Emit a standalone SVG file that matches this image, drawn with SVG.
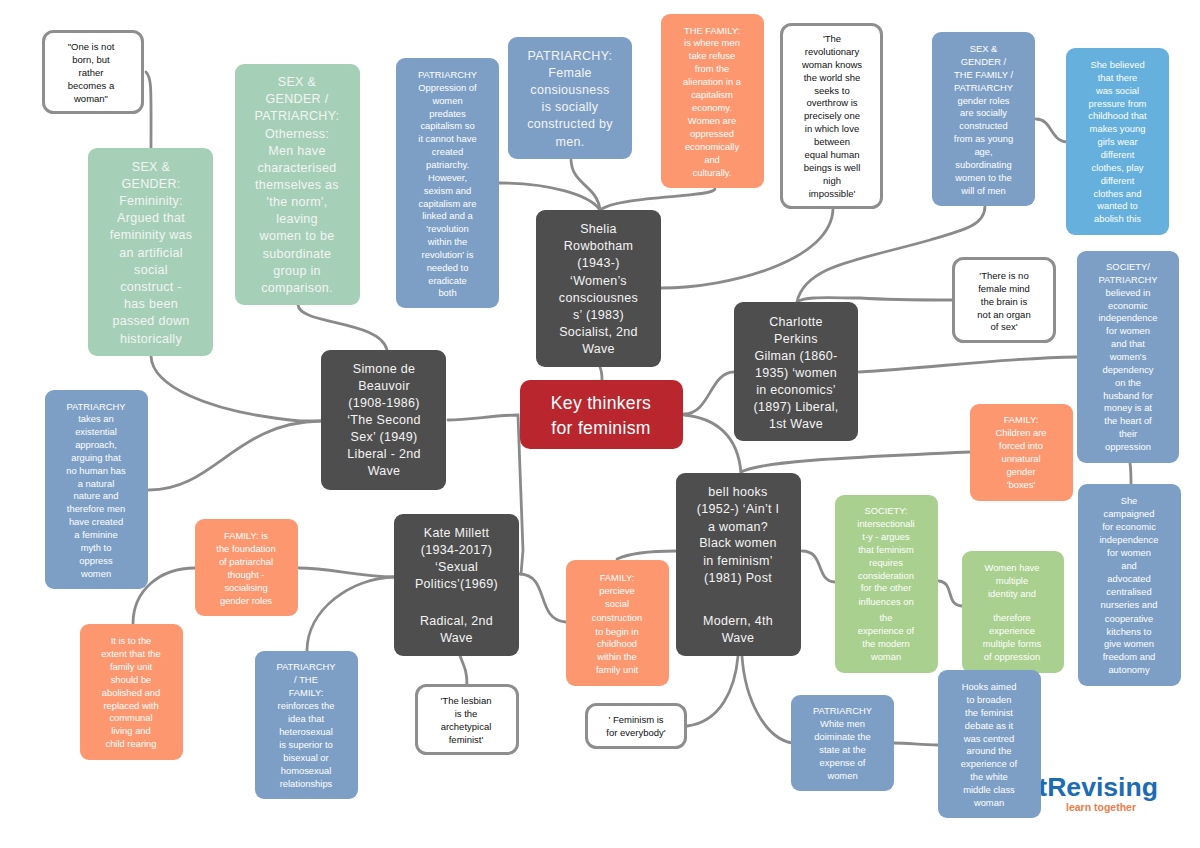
<svg xmlns="http://www.w3.org/2000/svg" width="1200" height="848" viewBox="0 0 1200 848">
<style>
text{font-family:"Liberation Sans",Arial,sans-serif;text-anchor:middle}
.b{fill:#7d9fc6}.g{fill:#a5d0b7}.o{fill:#fd9770}.l{fill:#66b0dd}.v{fill:#a9d08e}.d{fill:#4e4e4e}.r{fill:#b9262d}
.q{fill:#fff;stroke:#8e8e8e;stroke-width:3}
.s{font-size:9.4px;fill:#fff}.k{font-size:9.5px;fill:#111}.m{font-size:12.5px;fill:#f4f4f4;letter-spacing:.3px}.x{font-size:17.6px;fill:#fff;letter-spacing:.3px}
#connectors path{fill:none;stroke:#8a8a8a;stroke-width:2.8;stroke-linecap:round}
</style>
<g id="logo"><text x="1158" y="796" font-size="26.600" font-weight="700" fill="#1b6cb5" style="text-anchor:end">tRevising</text><text x="1101" y="811" font-size="10.500" font-weight="700" fill="#f07c4a">learn together</text></g>
<g id="connectors">
<path d="M146 72C152 78 151 90 151 148"/>
<path d="M151 356C152 385 205 412 300 421L321 421"/>
<path d="M149 490C215 490 235 422 321 421"/>
<path d="M298 305C300 325 380 320 387 350"/>
<path d="M448 420C470 420 495 415 518 415L520 470L523 550L521 574"/>
<path d="M520 574C550 575 535 620 566 622"/>
<path d="M617 559C630 553 650 551 676 551"/>
<path d="M460 656C465 668 467 672 467 685"/>
<path d="M299 568C330 568 355 576 395 577"/>
<path d="M307 651C307 610 350 578 395 577"/>
<path d="M195 568C160 568 133 590 133 624"/>
<path d="M600 367C602 372 602 374 602 380"/>
<path d="M499 183C550 183 590 195 600 210"/>
<path d="M571 160C572 185 597 185 600 210"/>
<path d="M715 189C712 198 620 195 600 210"/>
<path d="M661 288C730 288 833 260 833 208"/>
<path d="M797 302C805 265 860 260 930 240C965 230 985 225 985 206"/>
<path d="M797 302C805 296 830 298 860 298C890 300 920 300 953 300"/>
<path d="M1036 119C1052 119 1050 141 1067 142"/>
<path d="M859 372C933 368 1000 358 1077 357"/>
<path d="M1130 463C1131 470 1131 475 1131 484"/>
<path d="M684 414C710 414 710 372 734 372"/>
<path d="M684 415C715 418 738 435 741 473"/>
<path d="M741 472C760 462 830 458 970 452"/>
<path d="M802 551C825 551 815 581 835 582"/>
<path d="M939 581C955 583 945 605 962 606"/>
<path d="M738 656C735 690 720 722 687 726"/>
<path d="M742 656C745 700 765 738 792 743"/>
<path d="M894 743C910 743 920 745 938 745"/>
</g>
<g id="n-quote-born"><rect class="q" x="43.500" y="31.500" width="99" height="81" rx="10"/><text class="k" text-anchor="middle"><tspan x="91" y="50">"One is not</tspan><tspan x="91" y="63">born, but</tspan><tspan x="91" y="76">rather</tspan><tspan x="91" y="89">becomes a</tspan><tspan x="91" y="102">woman"</tspan></text></g>
<g id="n-femininity"><rect class="g" x="88" y="148" width="125" height="208" rx="9"/><text class="m"><tspan x="151" y="170.500">SEX &amp;</tspan><tspan x="151" y="187.700">GENDER:</tspan><tspan x="151" y="204.900">Femininity:</tspan><tspan x="151" y="222.100">Argued that</tspan><tspan x="151" y="239.300">femininity was</tspan><tspan x="151" y="256.500">an artificial</tspan><tspan x="151" y="273.700">social</tspan><tspan x="151" y="290.900">construct -</tspan><tspan x="151" y="308.100">has been</tspan><tspan x="151" y="325.300">passed down</tspan><tspan x="151" y="342.500">historically</tspan></text></g>
<g id="n-otherness"><rect class="g" x="235" y="64" width="125" height="241" rx="9"/><text class="m"><tspan x="297" y="86">SEX &amp;</tspan><tspan x="297" y="103.200">GENDER /</tspan><tspan x="297" y="120.300">PATRIARCHY:</tspan><tspan x="297" y="137.500">Otherness:</tspan><tspan x="297" y="154.600">Men have</tspan><tspan x="297" y="171.800">characterised</tspan><tspan x="297" y="188.900">themselves as</tspan><tspan x="297" y="206">'the norm',</tspan><tspan x="297" y="223.200">leaving</tspan><tspan x="297" y="240.400">women to be</tspan><tspan x="297" y="257.500">subordinate</tspan><tspan x="297" y="274.700">group in</tspan><tspan x="297" y="291.800">comparison.</tspan></text></g>
<g id="n-oppression"><rect class="b" x="396" y="58" width="103" height="250" rx="9"/><text class="s"><tspan x="447.500" y="78">PATRIARCHY</tspan><tspan x="447.500" y="90.800">Oppression of</tspan><tspan x="447.500" y="103.700">women</tspan><tspan x="447.500" y="116.500">predates</tspan><tspan x="447.500" y="129.400">capitalism so</tspan><tspan x="447.500" y="142.200">it cannot have</tspan><tspan x="447.500" y="155.100">created</tspan><tspan x="447.500" y="168">patriarchy.</tspan><tspan x="447.500" y="180.800">However,</tspan><tspan x="447.500" y="193.700">sexism and</tspan><tspan x="447.500" y="206.500">capitalism are</tspan><tspan x="447.500" y="219.400">linked and a</tspan><tspan x="447.500" y="232.200">'revolution</tspan><tspan x="447.500" y="245">within the</tspan><tspan x="447.500" y="258">revolution' is</tspan><tspan x="447.500" y="270.800">needed to</tspan><tspan x="447.500" y="283.600">eradicate</tspan><tspan x="447.500" y="296">both</tspan></text></g>
<g id="n-consiousness"><rect class="b" x="508" y="37" width="124" height="122" rx="9"/><text class="m"><tspan x="570" y="59.500">PATRIARCHY:</tspan><tspan x="570" y="76.700">Female</tspan><tspan x="570" y="93.900">consiousness</tspan><tspan x="570" y="111.100">is socially</tspan><tspan x="570" y="128.300">constructed by</tspan><tspan x="570" y="145.500">men.</tspan></text></g>
<g id="n-family-refuge"><rect class="o" x="661" y="14" width="103" height="174" rx="9"/><text class="s"><tspan x="712" y="33.500">THE FAMILY:</tspan><tspan x="712" y="46.400">is where men</tspan><tspan x="712" y="59.300">take refuse</tspan><tspan x="712" y="72.200">from the</tspan><tspan x="712" y="85.100">alienation in a</tspan><tspan x="712" y="98">capitalism</tspan><tspan x="712" y="110.900">economy.</tspan><tspan x="712" y="123.800">Women are</tspan><tspan x="712" y="136.700">oppressed</tspan><tspan x="712" y="149.600">economically</tspan><tspan x="712" y="162.500">and</tspan><tspan x="712" y="175.500">culturally.</tspan></text></g>
<g id="n-quote-revolutionary"><rect class="q" x="781.500" y="24.500" width="100" height="183" rx="10"/><text class="k"><tspan x="832" y="42">'The</tspan><tspan x="832" y="54.900">revolutionary</tspan><tspan x="832" y="67.700">woman knows</tspan><tspan x="832" y="80.600">the world she</tspan><tspan x="832" y="93.500">seeks to</tspan><tspan x="832" y="106.400">overthrow is</tspan><tspan x="832" y="119.200">precisely one</tspan><tspan x="832" y="132.100">in which love</tspan><tspan x="832" y="145">between</tspan><tspan x="832" y="157.800">equal human</tspan><tspan x="832" y="170.700">beings is well</tspan><tspan x="832" y="183.600">nigh</tspan><tspan x="832" y="196.500">impossible'</tspan></text></g>
<g id="n-gender-roles"><rect class="b" x="932" y="32" width="103" height="174" rx="9"/><text class="s"><tspan x="983.500" y="52">SEX &amp;</tspan><tspan x="983.500" y="64.900">GENDER /</tspan><tspan x="983.500" y="77.700">THE FAMILY /</tspan><tspan x="983.500" y="90.600">PATRIARCHY</tspan><tspan x="983.500" y="103.500">gender roles</tspan><tspan x="983.500" y="116.400">are socially</tspan><tspan x="983.500" y="129.200">constructed</tspan><tspan x="983.500" y="142.100">from as young</tspan><tspan x="983.500" y="155">age,</tspan><tspan x="983.500" y="167.800">subordinating</tspan><tspan x="983.500" y="180.700">women to the</tspan><tspan x="983.500" y="193.500">will of men</tspan></text></g>
<g id="n-social-pressure"><rect class="l" x="1066" y="48" width="103" height="187" rx="9"/><text class="s"><tspan x="1117.500" y="68">She believed</tspan><tspan x="1117.500" y="80.900">that there</tspan><tspan x="1117.500" y="93.700">was social</tspan><tspan x="1117.500" y="106.600">pressure from</tspan><tspan x="1117.500" y="119.400">childhood that</tspan><tspan x="1117.500" y="132.300">makes young</tspan><tspan x="1117.500" y="145.100">girls wear</tspan><tspan x="1117.500" y="158">different</tspan><tspan x="1117.500" y="170.800">clothes, play</tspan><tspan x="1117.500" y="183.700">different</tspan><tspan x="1117.500" y="196.500">clothes and</tspan><tspan x="1117.500" y="209.400">wanted to</tspan><tspan x="1117.500" y="222.200">abolish this</tspan></text></g>
<g id="n-rowbotham"><rect class="d" x="536" y="210" width="125" height="157" rx="9"/><text class="m"><tspan x="598.500" y="233">Shelia</tspan><tspan x="598.500" y="250.200">Rowbotham</tspan><tspan x="598.500" y="267.300">(1943-)</tspan><tspan x="598.500" y="284.500">‘Women’s</tspan><tspan x="598.500" y="301.600">consciousnes</tspan><tspan x="598.500" y="318.800">s’ (1983)</tspan><tspan x="598.500" y="335.900">Socialist, 2nd</tspan><tspan x="598.500" y="353">Wave</tspan></text></g>
<g id="n-key"><rect class="r" x="520" y="380" width="163" height="69" rx="10"/><text class="x"><tspan x="601" y="409">Key thinkers</tspan><tspan x="601" y="433.500">for feminism</tspan></text></g>
<g id="n-beauvoir"><rect class="d" x="321" y="350" width="125" height="140" rx="9"/><text class="m"><tspan x="384" y="372.500">Simone de</tspan><tspan x="384" y="389.600">Beauvoir</tspan><tspan x="384" y="406.700">(1908-1986)</tspan><tspan x="384" y="423.800">‘The Second</tspan><tspan x="384" y="440.900">Sex’ (1949)</tspan><tspan x="384" y="458">Liberal - 2nd</tspan><tspan x="384" y="475">Wave</tspan></text></g>
<g id="n-gilman"><rect class="d" x="734" y="302" width="124" height="139" rx="9"/><text class="m"><tspan x="796" y="325.500">Charlotte</tspan><tspan x="796" y="342.600">Perkins</tspan><tspan x="796" y="359.700">Gilman (1860-</tspan><tspan x="796" y="376.800">1935) ‘women</tspan><tspan x="796" y="393.900">in economics’</tspan><tspan x="796" y="411">(1897) Liberal,</tspan><tspan x="796" y="428">1st Wave</tspan></text></g>
<g id="n-quote-brain"><rect class="q" x="953.500" y="258.500" width="101" height="83" rx="10"/><text class="k"><tspan x="1004" y="279">'There is no</tspan><tspan x="1004" y="291.900">female mind</tspan><tspan x="1004" y="304.700">the brain is</tspan><tspan x="1004" y="317.600">not an organ</tspan><tspan x="1004" y="330">of sex'</tspan></text></g>
<g id="n-economic"><rect class="b" x="1077" y="251" width="102" height="212" rx="9"/><text class="s"><tspan x="1128" y="270">SOCIETY/</tspan><tspan x="1128" y="282.900">PATRIARCHY</tspan><tspan x="1128" y="295.700">believed in</tspan><tspan x="1128" y="308.600">economic</tspan><tspan x="1128" y="321.400">independence</tspan><tspan x="1128" y="334.300">for women</tspan><tspan x="1128" y="347.100">and that</tspan><tspan x="1128" y="360">women's</tspan><tspan x="1128" y="372.900">dependency</tspan><tspan x="1128" y="385.700">on the</tspan><tspan x="1128" y="398.600">husband for</tspan><tspan x="1128" y="411.400">money is at</tspan><tspan x="1128" y="424.300">the heart of</tspan><tspan x="1128" y="437.100">their</tspan><tspan x="1128" y="450">oppression</tspan></text></g>
<g id="n-family-boxes"><rect class="o" x="970" y="404" width="103" height="97" rx="9"/><text class="s"><tspan x="1021" y="423">FAMILY:</tspan><tspan x="1021" y="435.900">Children are</tspan><tspan x="1021" y="448.800">forced into</tspan><tspan x="1021" y="461.700">unnatural</tspan><tspan x="1021" y="474.600">gender</tspan><tspan x="1021" y="487.500">'boxes'</tspan></text></g>
<g id="n-hooks"><rect class="d" x="676" y="473" width="125" height="183" rx="9"/><text class="m"><tspan x="738" y="496">bell hooks</tspan><tspan x="738" y="513.300">(1952-) ‘Ain’t I</tspan><tspan x="738" y="530.600">a woman?</tspan><tspan x="738" y="547">Black women</tspan><tspan x="738" y="564.500">in feminism’</tspan><tspan x="738" y="581.700">(1981) Post</tspan><tspan x="738" y="624.500">Modern, 4th</tspan><tspan x="738" y="641.500">Wave</tspan></text></g>
<g id="n-millett"><rect class="d" x="394" y="514" width="125" height="142" rx="9"/><text class="m"><tspan x="456.500" y="536.500">Kate Millett</tspan><tspan x="456.500" y="553.700">(1934-2017)</tspan><tspan x="456.500" y="570.500">‘Sexual</tspan><tspan x="456.500" y="587.500">Politics’(1969)</tspan><tspan x="456.500" y="624.500">Radical, 2nd</tspan><tspan x="456.500" y="641.500">Wave</tspan></text></g>
<g id="n-family-childhood"><rect class="o" x="566" y="560" width="103" height="126" rx="9"/><text class="s"><tspan x="617" y="581">FAMILY:</tspan><tspan x="617" y="594">percieve</tspan><tspan x="617" y="607.200">social</tspan><tspan x="617" y="621">construction</tspan><tspan x="617" y="634.500">to begin in</tspan><tspan x="617" y="647">childhood</tspan><tspan x="617" y="660">within the</tspan><tspan x="617" y="673">family unit</tspan></text></g>
<g id="n-intersectionality"><rect class="v" x="835" y="495" width="103" height="178" rx="9"/><text class="s"><tspan x="886" y="514">SOCIETY:</tspan><tspan x="886" y="527">intersectionali</tspan><tspan x="886" y="540">t-y - argues</tspan><tspan x="886" y="553">that feminism</tspan><tspan x="886" y="565.500">requires</tspan><tspan x="886" y="578.500">consideration</tspan><tspan x="886" y="591">for the other</tspan><tspan x="886" y="604.500">influences on</tspan><tspan x="886" y="621">the</tspan><tspan x="886" y="634">experience of</tspan><tspan x="886" y="647">the modern</tspan><tspan x="886" y="660">woman</tspan></text></g>
<g id="n-identity"><rect class="v" x="962" y="551" width="102" height="122" rx="9"/><text class="s"><tspan x="1012" y="571">Women have</tspan><tspan x="1012" y="584">multiple</tspan><tspan x="1012" y="596.500">identity and</tspan><tspan x="1012" y="621">therefore</tspan><tspan x="1012" y="634">experience</tspan><tspan x="1012" y="647">multiple forms</tspan><tspan x="1012" y="660">of oppression</tspan></text></g>
<g id="n-campaigned"><rect class="b" x="1078" y="484" width="103" height="202" rx="9"/><text class="s"><tspan x="1129" y="504">She</tspan><tspan x="1129" y="517">campaigned</tspan><tspan x="1129" y="530">for economic</tspan><tspan x="1129" y="543">independence</tspan><tspan x="1129" y="556">for women</tspan><tspan x="1129" y="569">and</tspan><tspan x="1129" y="582">advocated</tspan><tspan x="1129" y="595">centralised</tspan><tspan x="1129" y="608">nurseries and</tspan><tspan x="1129" y="621.500">cooperative</tspan><tspan x="1129" y="634.500">kitchens to</tspan><tspan x="1129" y="647">give women</tspan><tspan x="1129" y="660">freedom and</tspan><tspan x="1129" y="673">autonomy</tspan></text></g>
<g id="n-white-men"><rect class="b" x="791" y="695" width="103" height="96" rx="9"/><text class="s"><tspan x="842.500" y="714">PATRIARCHY</tspan><tspan x="842.500" y="727">White men</tspan><tspan x="842.500" y="740">doiminate the</tspan><tspan x="842.500" y="752.500">state at the</tspan><tspan x="842.500" y="765.500">expense of</tspan><tspan x="842.500" y="778.500">women</tspan></text></g>
<g id="n-broaden"><rect class="b" x="938" y="670" width="103" height="148" rx="9"/><text class="s"><tspan x="989" y="690">Hooks aimed</tspan><tspan x="989" y="702.900">to broaden</tspan><tspan x="989" y="715.800">the feminist</tspan><tspan x="989" y="728.700">debate as it</tspan><tspan x="989" y="741.600">was centred</tspan><tspan x="989" y="754.400">around the</tspan><tspan x="989" y="767.300">experience of</tspan><tspan x="989" y="780.200">the white</tspan><tspan x="989" y="793.100">middle class</tspan><tspan x="989" y="806">woman</tspan></text></g>
<g id="n-quote-everybody"><rect class="q" x="586.500" y="704.500" width="99" height="43" rx="10"/><text class="k"><tspan x="636" y="723">' Feminism is</tspan><tspan x="636" y="736">for everybody'</tspan></text></g>
<g id="n-quote-lesbian"><rect class="q" x="416.500" y="685.500" width="101" height="68" rx="10"/><text class="k"><tspan x="466" y="704">'The lesbian</tspan><tspan x="466" y="717">is the</tspan><tspan x="466" y="730">archetypical</tspan><tspan x="466" y="743">feminist'</tspan></text></g>
<g id="n-family-foundation"><rect class="o" x="195" y="519" width="103" height="97" rx="9"/><text class="s"><tspan x="246" y="539">FAMILY: is</tspan><tspan x="246" y="552">the foundation</tspan><tspan x="246" y="565">of patriarchal</tspan><tspan x="246" y="578">thought -</tspan><tspan x="246" y="591">socialising</tspan><tspan x="246" y="604">gender roles</tspan></text></g>
<g id="n-abolished"><rect class="o" x="80" y="624" width="103" height="136" rx="9"/><text class="s"><tspan x="131" y="644">It is to the</tspan><tspan x="131" y="657">extent that the</tspan><tspan x="131" y="669.800">family unit</tspan><tspan x="131" y="682.700">should be</tspan><tspan x="131" y="695.500">abolished and</tspan><tspan x="131" y="708.500">replaced with</tspan><tspan x="131" y="721.200">communal</tspan><tspan x="131" y="734">living and</tspan><tspan x="131" y="747">child rearing</tspan></text></g>
<g id="n-heterosexual"><rect class="b" x="255" y="651" width="103" height="148" rx="9"/><text class="s"><tspan x="306" y="670">PATRIARCHY</tspan><tspan x="306" y="683">/ THE</tspan><tspan x="306" y="696">FAMILY:</tspan><tspan x="306" y="709">reinforces the</tspan><tspan x="306" y="722">idea that</tspan><tspan x="306" y="735">heterosexual</tspan><tspan x="306" y="748">is superior to</tspan><tspan x="306" y="760.800">bisexual or</tspan><tspan x="306" y="773.600">homosexual</tspan><tspan x="306" y="786.500">relationships</tspan></text></g>
<g id="n-existential"><rect class="b" x="45" y="390" width="103" height="199" rx="9"/><text class="s"><tspan x="96" y="409.500">PATRIARCHY</tspan><tspan x="96" y="422.300">takes an</tspan><tspan x="96" y="435.200">existential</tspan><tspan x="96" y="448">approach,</tspan><tspan x="96" y="460.900">arguing that</tspan><tspan x="96" y="473.700">no human has</tspan><tspan x="96" y="486.600">a natural</tspan><tspan x="96" y="499.400">nature and</tspan><tspan x="96" y="512.300">therefore men</tspan><tspan x="96" y="525.100">have created</tspan><tspan x="96" y="538">a feminine</tspan><tspan x="96" y="550.800">myth to</tspan><tspan x="96" y="563.700">oppress</tspan><tspan x="96" y="576.500">women</tspan></text></g>
</svg>
